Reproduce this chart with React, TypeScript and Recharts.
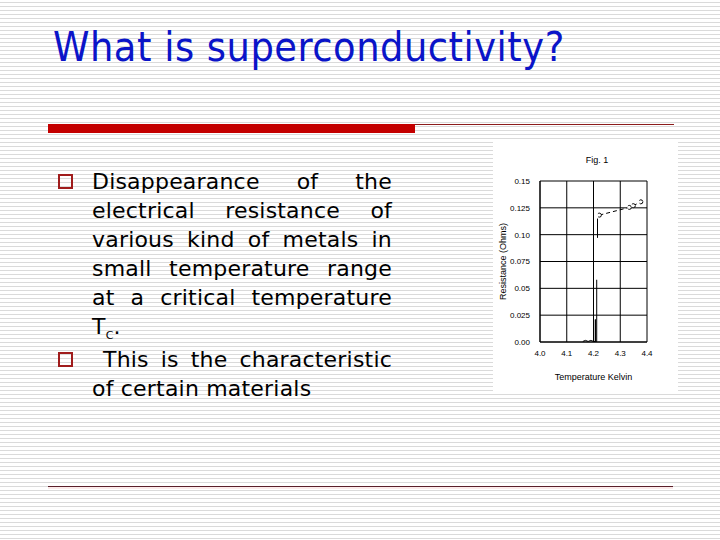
import { LineChart, Line, XAxis, YAxis, CartesianGrid } from 'recharts';

// resistance of mercury near 4.2 K (Onnes, Fig. 1)
const tempLow = [4.16, 4.17, 4.18, 4.19, 4.2, 4.207, 4.207, 4.207, 4.212, 4.212];
const resLow = [0.0005, 0.0015, 0.0005, 0.0015, 0.0005, 0.0005, 0.021, 0.0005, 0.0005, 0.058];

const tempJump = [4.215, 4.215];
const resJump = [0.097, 0.115];

const tempHigh = [4.222, 4.334, 4.349, 4.377];
const resHigh = [0.1182, 0.1254, 0.127, 0.1306];

const xTicks = [4.0, 4.1, 4.2, 4.3, 4.4];
const xTickLabels = ['4.0', '4.1', '4.2', '4.3', '4.4'];
const yTicks = [0, 0.025, 0.05, 0.075, 0.1, 0.125, 0.15];
const yTickLabels = ['0.00', '0.025', '0.05', '0.075', '0.10', '0.125', '0.15'];

const bulletOne = [
    'Disappearance of the',
    'electrical resistance of',
    'various kind of metals in',
    'small temperature range',
    'at a critical temperature',
];
const bulletTwo = ['This is the characteristic', 'of certain materials'];

const toRows = (t: number[], r: number[]) => t.map((v, i) => ({ t: v, r: r[i] }));

const lowRows = toRows(tempLow, resLow);
const jumpRows = toRows(tempJump, resJump);
const highRows = toRows(tempHigh, resHigh);

const chartFont = { fontSize: 8, fontFamily: 'Liberation Sans, Arial, sans-serif', fill: '#000' };
const bodyFont = '"DejaVu Sans", Verdana, sans-serif';

const Square = ({ top }: { top: number }) => (
    <div
        style={{
            position: 'absolute',
            left: 58,
            top,
            width: 11,
            height: 11,
            border: '2px solid #a01c1c',
        }}
    />
);

const Fig1 = () => (
    <div style={{ position: 'absolute', left: 493, top: 141, width: 185, height: 250, background: '#fff' }}>
        <div
            style={{
                position: 'absolute',
                left: 0,
                width: 208,
                top: 14,
                textAlign: 'center',
                fontSize: 9,
                fontFamily: 'Liberation Sans, Arial, sans-serif',
            }}
        >
            Fig. 1
        </div>
        <LineChart width={185} height={250} margin={{ top: 40, right: 31, left: 13, bottom: 19 }}>
            <CartesianGrid stroke="#000" strokeWidth={1} />
            <XAxis
                dataKey="t"
                type="number"
                domain={[4.0, 4.4]}
                ticks={xTicks}
                tickFormatter={(v: number) => xTickLabels[xTicks.indexOf(v)] ?? String(v)}
                tick={chartFont}
                tickLine={false}
                axisLine={{ stroke: '#000' }}
                height={30}
                interval={0}
                label={{ value: 'Temperature Kelvin', position: 'bottom', offset: 2, style: { ...chartFont, fontSize: 9 } }}
            />
            <YAxis
                dataKey="r"
                type="number"
                domain={[0, 0.15]}
                ticks={yTicks}
                tickFormatter={(v: number) => yTickLabels[yTicks.indexOf(v)] ?? String(v)}
                tick={chartFont}
                tickLine={false}
                tickMargin={4}
                axisLine={{ stroke: '#000' }}
                width={34}
                interval={0}
                label={{
                    value: 'Resistance (Ohms)',
                    angle: -90,
                    position: 'insideLeft',
                    offset: -3,
                    style: { ...chartFont, fontSize: 9, textAnchor: 'middle' },
                }}
            />
            <Line data={lowRows} dataKey="r" stroke="#000" strokeWidth={1} dot={false} isAnimationActive={false} />
            <Line data={jumpRows} dataKey="r" stroke="#000" strokeWidth={1} dot={false} isAnimationActive={false} />
            <Line
                data={highRows}
                dataKey="r"
                stroke="#000"
                strokeWidth={1}
                strokeDasharray="4 3"
                dot={{ r: 2, stroke: '#000', strokeWidth: 1, fill: '#fff' }}
                isAnimationActive={false}
            />
        </LineChart>
    </div>
);

export default function App() {
    return (
        <div
            style={{
                position: 'absolute',
                left: 0,
                top: 0,
                width: 720,
                height: 540,
                overflow: 'hidden',
                background:
                    'repeating-linear-gradient(to bottom, #fff 0px, #fff 2px, #dadada 2px, #dadada 3px, #fff 3px, #fff 4px)',
                fontFamily: bodyFont,
            }}
        >
            <div
                style={{
                    position: 'absolute',
                    left: 53,
                    top: 27,
                    fontSize: 41,
                    letterSpacing: 0.5,
                    lineHeight: '40px',
                    color: '#0a14c8',
                    whiteSpace: 'nowrap',
                    fontFamily: '"DejaVu Sans Condensed", "DejaVu Sans", sans-serif',
                }}
            >
                What is superconductivity?
            </div>

            <div style={{ position: 'absolute', left: 48, top: 124, width: 367, height: 9, background: '#c40000' }} />
            <div style={{ position: 'absolute', left: 415, top: 124, width: 259, height: 1, background: '#8c1c1c' }} />

            <Square top={174} />
            <div style={{ position: 'absolute', left: 92, top: 167, width: 300, fontSize: 22, lineHeight: '29px', letterSpacing: 0.2 }}>
                {bulletOne.map((line) => (
                    <div key={line} style={{ textAlign: 'justify', textAlignLast: 'justify', whiteSpace: 'nowrap' }}>
                        {line}
                    </div>
                ))}
                <div>
                    T<sub style={{ fontSize: 11 }}>C</sub>.
                </div>
            </div>

            <Square top={352} />
            <div style={{ position: 'absolute', left: 92, top: 345, width: 300, fontSize: 22, lineHeight: '29px', letterSpacing: 0.2 }}>
                <div style={{ paddingLeft: 11, textAlign: 'justify', textAlignLast: 'justify', whiteSpace: 'nowrap' }}>
                    {bulletTwo[0]}
                </div>
                <div style={{ whiteSpace: 'nowrap' }}>{bulletTwo[1]}</div>
            </div>

            <Fig1 />

            <div style={{ position: 'absolute', left: 48, top: 486, width: 625, height: 1, background: '#5a1f2a' }} />
            <div style={{ position: 'absolute', left: 48, top: 487, width: 625, height: 2, background: '#fbeaea' }} />
        </div>
    );
}
